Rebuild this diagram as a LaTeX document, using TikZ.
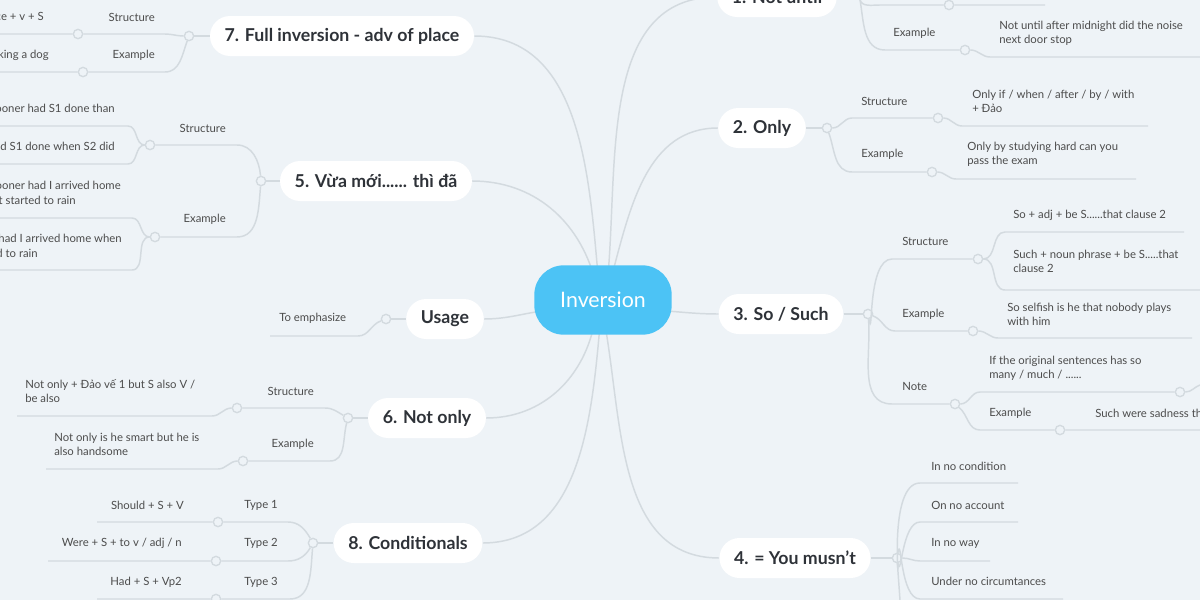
\documentclass[tikz,border=0pt]{standalone}
\usepackage{fontspec}
\setmainfont{Lato}
\pgfdeclarelayer{bg}\pgfdeclarelayer{lines}
\pgfsetlayers{bg,lines,main}
\definecolor{bgc}{HTML}{EEF3F7}
\definecolor{lc}{HTML}{D3DADF}
\definecolor{dark}{HTML}{2E3238}
\definecolor{gr}{HTML}{5A5E63}
\definecolor{cblue}{HTML}{4CC3F5}
\tikzset{
 conn/.style={draw=lc,line width=1.1pt},
 jn/.style={circle,draw=lc,fill=bgc,line width=1pt,minimum size=7pt,inner sep=0pt},
 mainn/.style={fill=white,rounded corners=15pt,minimum height=30pt,inner xsep=11pt,font=\fontsize{13.3}{15}\selectfont\bfseries,text=dark},
 lab/.style={font=\fontsize{8.5}{10.5}\selectfont,text=gray!60!black,inner sep=0pt,align=left},
}
\begin{document}
\begin{tikzpicture}[x=0.75pt,y=-0.75pt]
\begin{pgfonlayer}{bg}
\fill[bgc] (0,0) rectangle (1200,600);
\end{pgfonlayer}
\useasboundingbox (0,0) rectangle (1200,600);
% center
\node[fill=cblue,rounded corners=22pt,minimum width=103pt,minimum height=52pt,text=white,font=\fontsize{16}{18}\selectfont] (c) at (603,300) {Inversion};
% main nodes
\node[mainn] (n1) at (777,-3) {1. Not until};
\node[mainn] (n2) at (762,128) {2. Only};
\node[mainn] (n3) at (781,314) {3. So / Such};
\node[mainn] (n4) at (795,558) {4. = You musn't};
\node[mainn] (n7) at (342,36) {7. Full inversion - adv of place};
\node[mainn] (n5) at (376,181) {5. Vừa mới...... thì đã};
\node[mainn] (nu) at (445,319) {Usage};
\node[mainn] (n6) at (427,418) {6. Not only};
\node[mainn] (n8) at (408,543) {8. Conditionals};
\begin{pgfonlayer}{lines}
\draw[conn] (608,275) to[out=85,in=180] (n1.west);
\draw[conn] (612,275) to[out=75,in=180] (n2.west);
\draw[conn] (640,310) to[out=0,in=180] (n3.west);
\draw[conn] (605,325) to[out=-80,in=180] (n4.west);
\draw[conn] (598,275) to[out=95,in=0] (n7.east);
\draw[conn] (595,280) to[out=105,in=0] (n5.east);
\draw[conn] (560,310) to[out=180,in=0] (nu.east);
\draw[conn] (595,320) to[out=-100,in=0] (n6.east);
\draw[conn] (600,325) to[out=-95,in=0] (n8.east);
\end{pgfonlayer}
% ---- 1
\node[jn] (j1) at (859,-6) {};
\node[jn] (c1a) at (949,5) {};
\node[jn] (c1b) at (965,50) {};
\draw[conn] (n1.east) -- (j1);
\draw[conn] (j1) to[out=-80,in=180] (880,5) -- (c1a) -- (1045,5);
\draw[conn] (j1) to[out=-80,in=180] (885,50) -- (c1b) to[out=0,in=180] (990,57) -- (1200,57);
\node[lab,anchor=west] (t1b) at (893,33) {Example};
\node[lab,anchor=west] (t1bb) at (999,33) {Not until after midnight did the noise\\next door stop};
% ---- 2
\node[jn] (j2) at (827,128) {};
\node[jn] (c2a) at (938,118) {};
\node[jn] (c2b) at (932,172) {};
\draw[conn] (n2.east) -- (j2);
\draw[conn] (j2) to[out=0,in=180] (852,118) -- (c2a) to[out=0,in=180] (962,126) -- (1148,126);
\draw[conn] (j2) to[out=-70,in=180] (852,172) -- (c2b) to[out=0,in=180] (956,179) -- (1136,179);
\node[lab,anchor=west] (t2a) at (861,101) {Structure};
\node[lab,anchor=west] (t2aa) at (972,101) {Only if / when / after / by / with\\+ Đảo};
\node[lab,anchor=west] (t2b) at (861,154) {Example};
\node[lab,anchor=west] (t2bb) at (967,154) {Only by studying hard can you\\pass the exam};
% ---- 3
\node[jn] (j3) at (868,314) {};
\node[jn] (c3a) at (978,259) {};
\node[jn] (c3b) at (973,331) {};
\node[jn] (c3c) at (955,404) {};
\node[jn] (c3d) at (1180,392) {};
\node[jn] (c3e) at (1060,430) {};
\draw[conn] (n3.east) -- (j3);
\draw[conn] (j3) to[out=-80,in=180] (892,259) -- (c3a);
\draw[conn] (c3a) to[out=0,in=180] (1005,232) -- (1184,232);
\draw[conn] (c3a) to[out=0,in=180] (1005,290) -- (1200,290);
\draw[conn] (j3) to[out=-20,in=180] (895,331) -- (c3b) to[out=0,in=180] (998,338) -- (1192,338);
\draw[conn] (j3) to[out=-85,in=180] (892,404) -- (c3c);
\draw[conn] (c3c) to[out=0,in=180] (980,392) -- (c3d) to[out=0,in=200] (1200,385);
\draw[conn] (c3c) to[out=-40,in=180] (980,430) -- (c3e) -- (1200,430);
\node[lab,anchor=west] (t3a) at (902,241) {Structure};
\node[lab,anchor=west] (t3aa) at (1013,215) {So + adj + be S......that clause 2};
\node[lab,anchor=west] (t3ab) at (1013,261) {Such + noun phrase + be S.....that\\clause 2};
\node[lab,anchor=west] (t3b) at (902,314) {Example};
\node[lab,anchor=west] (t3bb) at (1007,314) {So selfish is he that nobody plays\\with him};
\node[lab,anchor=west] (t3c) at (902,386) {Note};
\node[lab,anchor=west] (t3cc) at (989,368) {If the original sentences has so\\many / much / ......};
\node[lab,anchor=west] (t3d) at (989,413) {Example};
\node[lab,anchor=west] (t3dd) at (1095,413) {Such were sadness that};
% ---- 4
\node[jn] (j4) at (897,558) {};
\draw[conn] (n4.east) -- (j4);
\draw[conn] (j4) to[out=-85,in=180] (920,483) -- (1018,483);
\draw[conn] (j4) to[out=-80,in=180] (920,522) -- (1018,522);
\draw[conn] (j4) to[out=0,in=180] (920,561) -- (990,561);
\draw[conn] (j4) to[out=80,in=180] (920,599) -- (1063,599);
\draw[conn] (j4) -- (900,600);
\node[lab,anchor=west] (t4a) at (931,466) {In no condition};
\node[lab,anchor=west] (t4b) at (931,505) {On no account};
\node[lab,anchor=west] (t4c) at (931,543) {In no way};
\node[lab,anchor=west] (t4d) at (931,581) {Under no circumtances};
% ---- 7
\node[jn] (j7) at (189,36) {};
\node[jn] (c7a) at (78,34) {};
\node[jn] (c7b) at (83,72) {};
\draw[conn] (n7.west) -- (j7);
\draw[conn] (j7) to[out=180,in=0] (165,34) -- (c7a) -- (0,34);
\draw[conn] (j7) to[out=-110,in=0] (165,72) -- (c7b) -- (0,72);
\node[lab,anchor=east] (t7a) at (155,17) {Structure};
\node[lab,anchor=east] (t7aa) at (44,17) {Adv of place + v + S};
\node[lab,anchor=east] (t7b) at (155,55) {Example};
\node[lab,anchor=east] (t7bb) at (49,55) {Here comes a man walking a dog};
% ---- 5
\node[jn] (j5) at (261,181) {};
\node[jn] (c5a) at (150,145) {};
\node[jn] (c5b) at (155,237) {};
\draw[conn] (n5.west) -- (j5);
\draw[conn] (j5) to[out=95,in=0] (237,145) -- (c5a);
\draw[conn] (c5a) to[out=180,in=0] (128,126) -- (0,126);
\draw[conn] (c5a) to[out=180,in=0] (128,164) -- (0,164);
\draw[conn] (j5) to[out=-95,in=0] (237,237) -- (c5b);
\draw[conn] (c5b) to[out=180,in=0] (132,218) -- (0,218);
\draw[conn] (c5b) to[out=180,in=0] (132,270) -- (0,270);
\node[lab,anchor=east] (t5a) at (226,128) {Structure};
\node[lab,anchor=east] (t5aa) at (115,108) {No sooner had S1 done than};
\node[lab,anchor=east] (t5ab) at (115,147) {Hardly had S1 done when S2 did};
\node[lab,anchor=east] (t5b) at (226,219) {Example};
\node[lab,anchor=east] (t5ba) at (121,185) {No sooner had I arrived home};
\node[lab,anchor=east] (t5bb) at (76,200) {than it started to rain};
\node[lab,anchor=east] (t5bc) at (122,239) {Hardly had I arrived home when};
\node[lab,anchor=east] (t5bd) at (38,253) {it started to rain};
% ---- usage
\node[jn] (ju) at (386,319) {};
\draw[conn] (nu.west) -- (ju);
\draw[conn] (ju) to[out=200,in=0] (358,336) -- (270,336);
\node[lab,anchor=west] (tu) at (279,318) {To emphasize};
% ---- 6
\node[jn] (j6) at (348,418) {};
\node[jn] (c6a) at (237,408) {};
\node[jn] (c6b) at (243,461) {};
\draw[conn] (n6.west) -- (j6);
\draw[conn] (j6) to[out=150,in=0] (325,408) -- (c6a) to[out=180,in=0] (212,416) -- (17,416);
\draw[conn] (j6) to[out=-105,in=0] (330,461) -- (c6b) to[out=180,in=0] (218,469) -- (46,469);
\node[lab,anchor=east] (t6a) at (314,391) {Structure};
\node[lab,anchor=west] (t6aa) at (25,391) {Not only + Đảo vế 1 but S also V /\\be also};
\node[lab,anchor=east] (t6b) at (314,444) {Example};
\node[lab,anchor=west] (t6bb) at (54,444) {Not only is he smart but he is\\also handsome};
% ---- 8
\node[jn] (j8) at (313,543) {};
\node[jn] (c8a) at (218,522) {};
\node[jn] (c8b) at (216,561) {};
\node[jn] (c8c) at (216,599) {};
\draw[conn] (n8.west) -- (j8);
\draw[conn] (j8) to[out=120,in=0] (288,522) -- (c8a) -- (97,522);
\draw[conn] (j8) to[out=-120,in=0] (288,561) -- (c8b) -- (48,561);
\draw[conn] (j8) to[out=-95,in=0] (290,599) -- (c8c) -- (97,599);
\node[lab,anchor=east] (t8a) at (278,505) {Type 1};
\node[lab,anchor=east] (t8aa) at (184,505) {Should + S + V};
\node[lab,anchor=east] (t8b) at (278,543) {Type 2};
\node[lab,anchor=east] (t8bb) at (182,543) {Were + S + to v / adj / n};
\node[lab,anchor=east] (t8c) at (278,582) {Type 3};
\node[lab,anchor=east] (t8cc) at (182,582) {Had + S + Vp2};
\end{tikzpicture}
\end{document}
